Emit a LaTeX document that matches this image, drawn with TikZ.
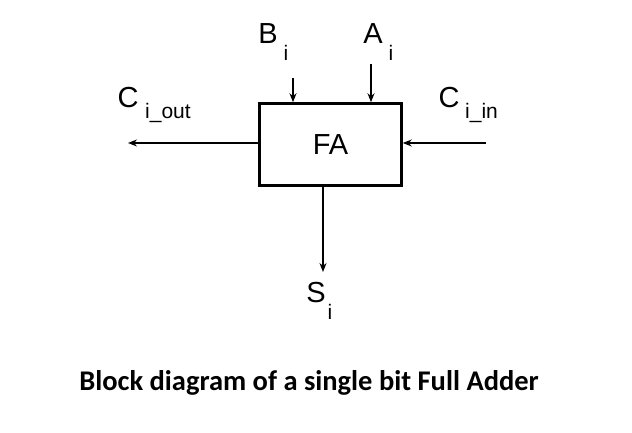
\documentclass[tikz,border=0pt]{standalone}
\usepackage{fontspec}
\setmainfont{Liberation Sans}
\newfontfamily\capfont{Carlito}
\usetikzlibrary{arrows.meta}
\begin{document}
\begin{tikzpicture}[x=1pt,y=-1pt,
  wire/.style={line width=1.3pt,-{Stealth[length=9pt,width=7pt]}},
  lbl/.style={inner sep=0pt,font=\fontsize{29}{29}\selectfont},
  sub/.style={inner sep=0pt,font=\fontsize{21}{21}\selectfont}]
\useasboundingbox[fill=white] (0,0) rectangle (632,433);
\node[draw,line width=2.5pt,minimum width=142pt,minimum height=82pt,font=\fontsize{29}{29}\selectfont] (fa) at (330.5,144.5) {FA};
\coordinate (cout) at (128,143);
\coordinate (cin) at (486,143);
\coordinate (bin) at (293,78);
\coordinate (ain) at (371,64);
\coordinate (sout) at (323,272);
\draw[wire] (fa.west |- cout) -- (cout);
\draw[wire] (cin) -- (fa.east |- cin);
\draw[wire] (bin) -- (bin |- fa.north);
\draw[wire] (ain) -- (ain |- fa.north);
\draw[wire] (fa.south -| sout) -- (sout);
\node[lbl] (lc) at (128,98) {C};
\node[sub,anchor=north west] (lcs) at (145,103) {i\_out};
\node[lbl] (rc) at (449,98) {C};
\node[sub,anchor=north west] (rcs) at (465,103) {i\_in};
\node[lbl] (lb) at (268,34) {B};
\node[sub] (lbs) at (286,53) {i};
\node[lbl] (la) at (373,34) {A};
\node[sub] (las) at (391,53) {i};
\node[lbl] (ls) at (316,293) {S};
\node[sub] (lss) at (330,312) {i};
\node[font=\capfont\bfseries\fontsize{28.5}{28.5}\selectfont] (cap) at (309,383) {Block diagram of a single bit Full Adder};
\end{tikzpicture}
\end{document}
